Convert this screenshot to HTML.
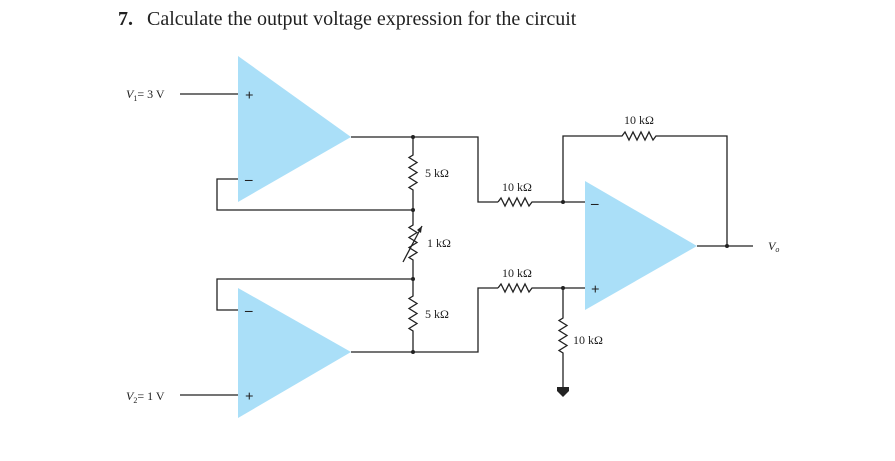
<!DOCTYPE html>
<html><head><meta charset="utf-8"><style>
html,body{margin:0;padding:0;background:#fff;width:895px;height:461px;overflow:hidden}
svg{display:block}
text{font-family:"Liberation Serif",serif;fill:#222}
</style></head><body>
<svg width="895" height="461" viewBox="0 0 895 461">
<text x="118" y="25" font-size="20" font-weight="bold">7.</text>
<text x="147" y="25" font-size="20">Calculate the output voltage expression for the circuit</text>
<g fill="#aadff8">
<polygon points="238,56 351,137 238,202"/>
<polygon points="238,288 351,352 238,418"/>
<polygon points="585,181 697,246 585,310"/>
</g>
<g stroke="#222" stroke-width="1.3" fill="none">
<path d="M180,94H238"/>
<path d="M180,395H238"/>
<path d="M238,179H217V210H413"/>
<path d="M238,310H217V279H413"/>
<path d="M351,137H478V202H498"/>
<path d="M351,352H478V288H498"/>
<path d="M413,137V155 l-4,2.5 l8,5 l-8,5 l8,5 l-8,5 l8,5 l-8,5 l4,2.5 V210"/>
<path d="M413,210V225 l-4,2.5 l8,5 l-8,5 l8,5 l-8,5 l8,5 l-8,5 l4,2.5 V279"/>
<path d="M413,279V296 l-4,2.5 l8,5 l-8,5 l8,5 l-8,5 l8,5 l-8,5 l4,2.5 V352"/>
<path d="M498,202 l3,-4 l4,8 l4,-8 l4,8 l4,-8 l4,8 l4,-8 l4,8 l3,-4 H585"/>
<path d="M498,288 l3,-4 l4,8 l4,-8 l4,8 l4,-8 l4,8 l4,-8 l4,8 l3,-4 H585"/>
<path d="M563,202V136H622 l3,-4 l4,8 l4,-8 l4,8 l4,-8 l4,8 l4,-8 l4,8 l3,-4 H727V246"/>
<path d="M697,246H753"/>
<path d="M563,288V318 l-4,2.5 l8,5 l-8,5 l8,5 l-8,5 l8,5 l-8,5 l4,2.5 V388"/>
<path d="M403,262 L422,226"/>
</g>
<polygon points="422,226 417,230 421,233" fill="#222"/>
<rect x="557" y="387" width="12" height="4" fill="#222"/>
<polygon points="557,391 569,391 563,397" fill="#222"/>
<g fill="#222">
<circle cx="413" cy="137" r="2"/><circle cx="413" cy="210" r="2"/>
<circle cx="413" cy="279" r="2"/><circle cx="413" cy="352" r="2"/>
<circle cx="563" cy="202" r="2"/><circle cx="563" cy="288" r="2"/>
<circle cx="727" cy="246" r="2"/>
</g>
<g font-size="15" font-weight="bold" font-family="Liberation Sans">
<text x="245" y="100">+</text>
<text x="245" y="184">–</text>
<text x="245" y="315">–</text>
<text x="245" y="401">+</text>
<text x="591" y="208">–</text>
<text x="591" y="294">+</text>
</g>
<g font-size="12">
<text x="126" y="98"><tspan font-style="italic">V</tspan><tspan font-size="8" dy="3">1</tspan><tspan dy="-3">= 3 V</tspan></text>
<text x="126" y="400"><tspan font-style="italic">V</tspan><tspan font-size="8" dy="3">2</tspan><tspan dy="-3">= 1 V</tspan></text>
<text x="425" y="177">5 kΩ</text>
<text x="427" y="247">1 kΩ</text>
<text x="425" y="318">5 kΩ</text>
<text x="502" y="191">10 kΩ</text>
<text x="502" y="277">10 kΩ</text>
<text x="624" y="124">10 kΩ</text>
<text x="573" y="344">10 kΩ</text>
<text x="768" y="250" font-style="italic">V<tspan font-size="8" dy="2">o</tspan></text>
</g>
</svg>
</body></html>
